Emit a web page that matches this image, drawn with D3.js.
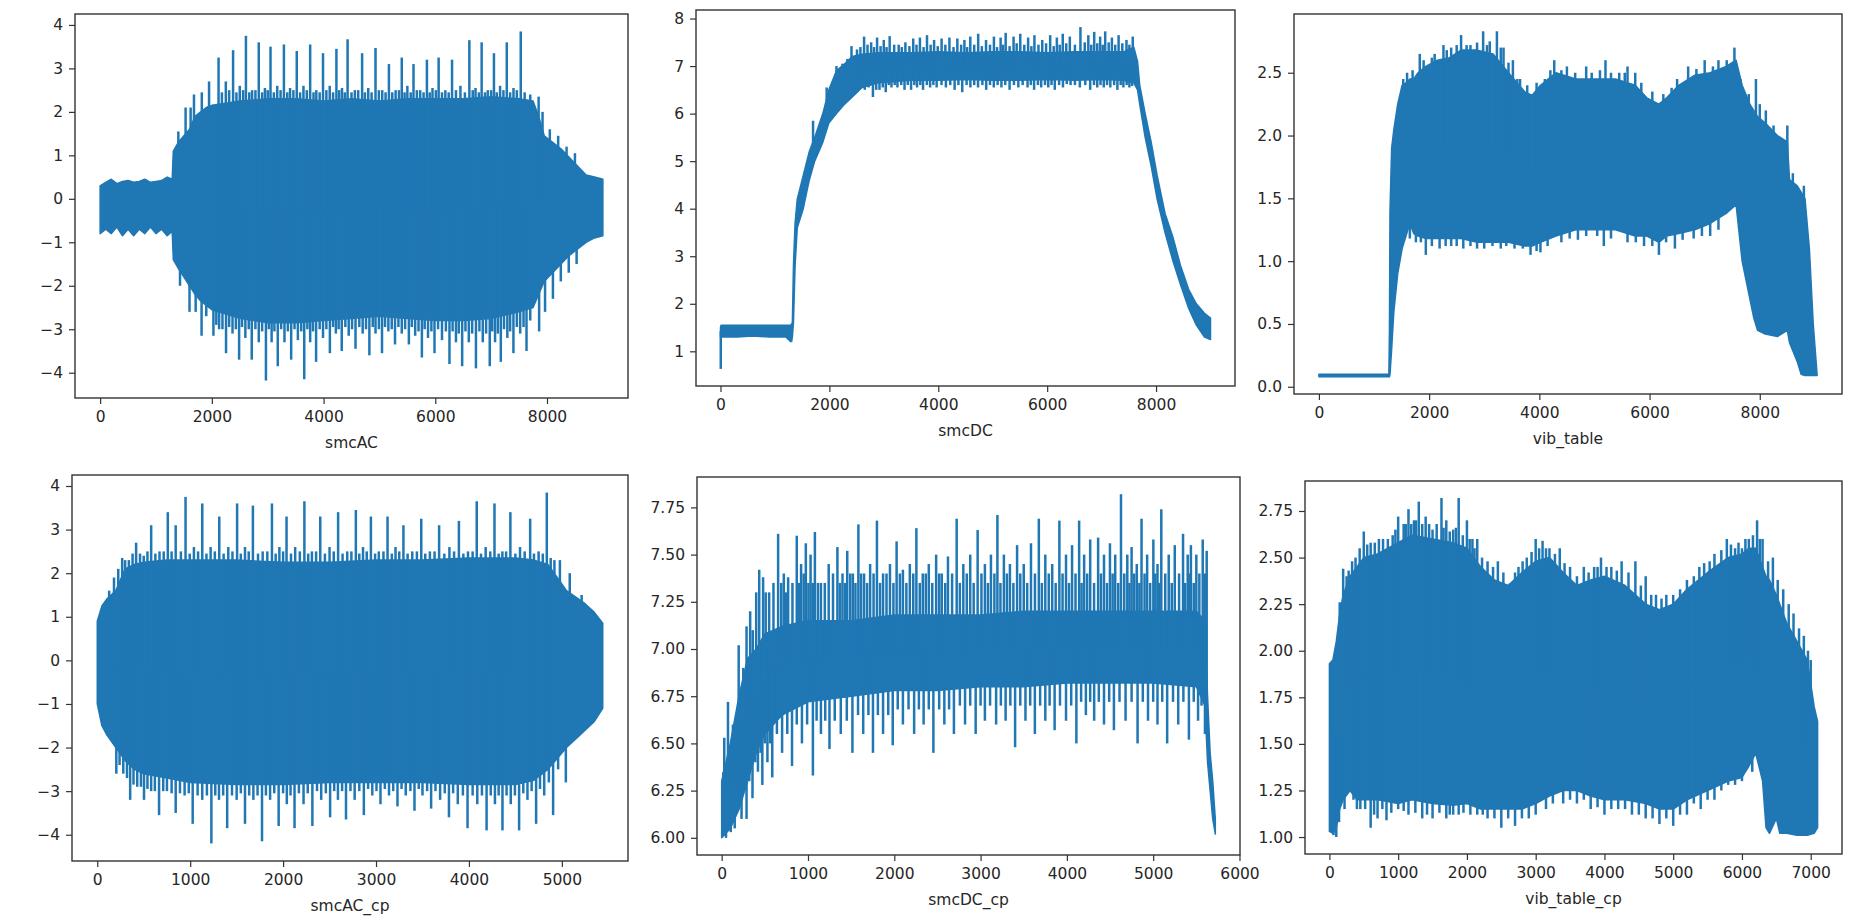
<!DOCTYPE html>
<html>
<head>
<meta charset="utf-8">
<script src="https://cdn.jsdelivr.net/npm/d3@7"></script>
<style>
  html, body { margin: 0; padding: 0; background: #fff; }
  svg text { font-family: 'DejaVu Sans', sans-serif; }
</style>
</head>
<body>
<svg id="fig" width="1861" height="922"></svg>
<script>
const BLUE = '#1f77b4';
const INK = '#262626';

// smcAC: band envelope (x, upper, lower), spike tips (x, y) and small teeth (x, y)
const smcAC_x  = [0, 100, 200, 300, 400, 500, 600, 700, 800, 900, 1000, 1100, 1200, 1290, 1310, 1400, 1500, 1600, 1700, 1800, 1900, 2000, 2250, 2500, 3000, 3500, 4000, 4500, 5000, 5500, 6000, 6500, 7000, 7500, 7750, 7850, 7950, 8100, 8250, 8400, 8550, 8700, 8850, 9000];
const smcAC_hi = [0.3, 0.38, 0.45, 0.35, 0.4, 0.42, 0.38, 0.4, 0.45, 0.38, 0.4, 0.42, 0.5, 0.45, 1.1, 1.3, 1.45, 1.6, 1.9, 2.0, 2.1, 2.15, 2.2, 2.25, 2.3, 2.3, 2.25, 2.3, 2.25, 2.3, 2.3, 2.3, 2.35, 2.3, 2.25, 1.9, 1.45, 1.3, 1.15, 0.95, 0.75, 0.55, 0.5, 0.45];
const smcAC_lo = [-0.8, -0.7, -0.8, -0.65, -0.85, -0.7, -0.85, -0.7, -0.8, -0.65, -0.8, -0.7, -0.85, -0.75, -1.4, -1.6, -1.8, -2.0, -2.2, -2.35, -2.45, -2.55, -2.65, -2.75, -2.85, -2.85, -2.8, -2.75, -2.7, -2.75, -2.8, -2.8, -2.75, -2.6, -2.5, -2.2, -1.9, -1.7, -1.5, -1.3, -1.15, -1.0, -0.9, -0.85];
const smcAC_sx = [1400, 1530, 1620, 1680, 1820, 1950, 2120, 2250, 2380, 2500, 2610, 2720, 2840, 2950, 3050, 3170, 3290, 3400, 3520, 3640, 3760, 3870, 3990, 4110, 4230, 4330, 4430, 4560, 4690, 4800, 4930, 5050, 5170, 5290, 5400, 5500, 5610, 5730, 5850, 5950, 6060, 6180, 6300, 6450, 6610, 6720, 6830, 6940, 7050, 7160, 7280, 7400, 7530, 7700, 7850, 7920, 8050, 8200, 8350, 8500,
  1430, 1600, 1710, 1816, 2028, 2130, 2254, 2370, 2488, 2600, 2714, 2840, 2968, 3070, 3180, 3300, 3420, 3540, 3654, 3760, 3866, 3990, 4113, 4220, 4325, 4450, 4572, 4700, 4820, 4930, 5046, 5160, 5279, 5400, 5527, 5640, 5760, 5870, 5986, 6120, 6254, 6370, 6481, 6600, 6728, 6850, 6975, 7070, 7173, 7290, 7399, 7520, 7633, 7859, 7965, 8106, 8247, 8389, 8530];
const smcAC_sy = [1.55, 2.1, 2.1, 2.4, 2.45, 2.7, 3.25, 2.7, 3.42, 2.6, 3.75, 2.5, 3.6, 2.55, 3.5, 2.6, 3.55, 2.55, 3.4, 2.6, 3.55, 2.5, 3.35, 2.6, 3.45, 2.55, 3.67, 2.5, 3.35, 2.55, 3.47, 2.5, 3.1, 2.5, 3.25, 2.6, 3.1, 2.5, 3.2, 2.55, 3.25, 2.5, 3.2, 2.6, 3.65, 2.55, 3.6, 2.5, 3.35, 2.6, 3.6, 2.55, 3.85, 2.4, 2.35, 2.0, 1.6, 1.45, 1.2, 1.05,
  -2.0, -2.6, -2.6, -3.15, -3.15, -3.0, -3.55, -3.1, -3.7, -3.2, -3.7, -3.3, -4.18, -3.3, -3.85, -3.3, -3.7, -3.25, -4.15, -3.3, -3.75, -3.2, -3.55, -3.1, -3.5, -3.15, -3.45, -3.1, -3.6, -3.1, -3.55, -3.05, -3.35, -3.1, -3.35, -3.15, -3.65, -3.2, -3.55, -3.25, -3.8, -3.3, -3.85, -3.3, -3.9, -3.3, -3.85, -3.3, -3.75, -3.2, -3.55, -3.1, -3.5, -3.05, -2.6, -2.3, -1.9, -1.7, -1.5];
const smcAC_tx = [2180, 2310, 2440, 2560, 2670, 2780, 2900, 3000, 3110, 3230, 3350, 3460, 3580, 3700, 3820, 3930, 4050, 4170, 4280, 4380, 4500, 4620, 4740, 4860, 4990, 5110, 5230, 5350, 5450, 5560, 5670, 5790, 5900, 6010, 6120, 6240, 6370, 6530, 6670, 6780, 6890, 7000, 7100, 7220, 7340, 7460, 7600,
  1900, 2080, 2190, 2310, 2430, 2540, 2660, 2780, 2900, 3020, 3120, 3240, 3360, 3480, 3600, 3710, 3810, 3930, 4050, 4170, 4270, 4390, 4510, 4640, 4760, 4880, 4990, 5100, 5220, 5340, 5460, 5580, 5700, 5810, 5930, 6050, 6190, 6310, 6420, 6540, 6660, 6790, 6910, 7020, 7120, 7230, 7340, 7460, 7580, 7700];
const smcAC_ty = [2.45, 2.5, 2.45, 2.5, 2.45, 2.5, 2.45, 2.5, 2.45, 2.5, 2.45, 2.5, 2.45, 2.5, 2.45, 2.45, 2.5, 2.45, 2.5, 2.45, 2.45, 2.5, 2.45, 2.45, 2.5, 2.45, 2.45, 2.5, 2.45, 2.45, 2.5, 2.45, 2.45, 2.5, 2.45, 2.45, 2.5, 2.45, 2.5, 2.45, 2.45, 2.5, 2.45, 2.5, 2.45, 2.5, 2.45,
  -2.7, -2.9, -3.0, -2.95, -3.0, -2.95, -3.0, -3.0, -3.05, -3.0, -3.05, -3.0, -3.05, -3.0, -3.05, -3.0, -3.05, -3.0, -3.0, -2.95, -3.0, -2.95, -3.0, -2.95, -3.0, -2.95, -3.0, -2.95, -3.0, -2.95, -3.0, -2.95, -3.05, -3.0, -3.05, -3.0, -3.05, -3.05, -3.1, -3.05, -3.1, -3.05, -3.1, -3.05, -3.1, -3.0, -3.05, -2.95, -2.95, -2.8];

// smcDC
const smcDC_x  = [0, 10, 300, 600, 900, 1200, 1290, 1320, 1340, 1370, 1410, 1520, 1630, 1730, 1880, 1990, 2130, 2280, 2420, 2600, 2900, 3500, 4000, 4500, 5000, 5500, 6000, 6500, 7000, 7400, 7590, 7660, 7700, 7800, 7910, 8020, 8165, 8310, 8450, 8600, 8740, 8890, 9000];
const smcDC_hi = [1.5, 1.55, 1.55, 1.55, 1.55, 1.55, 1.55, 1.6, 2.8, 3.7, 4.2, 4.7, 5.2, 5.5, 6.0, 6.5, 6.9, 7.05, 7.2, 7.25, 7.28, 7.28, 7.3, 7.28, 7.3, 7.3, 7.28, 7.3, 7.3, 7.3, 7.4, 7.1, 6.6, 6.0, 5.4, 4.7, 3.9, 3.4, 2.8, 2.3, 2.0, 1.8, 1.7];
const smcDC_lo = [1.3, 1.3, 1.3, 1.32, 1.3, 1.3, 1.2, 1.3, 1.6, 2.8, 3.6, 4.0, 4.6, 5.0, 5.4, 5.8, 6.0, 6.2, 6.35, 6.55, 6.65, 6.7, 6.7, 6.72, 6.7, 6.7, 6.72, 6.7, 6.72, 6.7, 6.65, 6.5, 6.2, 5.5, 4.9, 4.2, 3.5, 2.9, 2.4, 1.9, 1.55, 1.3, 1.25];
const smcDC_sx = [1480, 1700, 1950, 2130, 2240, 2330, 2406, 2507, 2637, 2767, 2876, 2999, 3107, 3273, 3396, 3540, 3663, 3793, 3923, 4061, 4205, 4350, 4480, 4588, 4733, 4877, 5022, 5145, 5238, 5383, 5506, 5650, 5766, 5910, 6055, 6178, 6286, 6416, 6611, 6756, 6864, 6973, 7066, 7189, 7312, 7457, 7572,
  5, 1300, 2507, 2650, 2800, 2920, 3035, 3140, 3250, 3380, 3500, 3610, 3720, 3850, 3970, 4140, 4300, 4440, 4590, 4730, 4880, 5020, 5160, 5310, 5470, 5640, 5760, 5890, 6020, 6140, 6290, 6430, 6600, 6790, 6920, 7040, 7160, 7290, 7400, 7510];
const smcDC_sy = [4.3, 5.85, 6.55, 7.0, 7.05, 7.15, 7.42, 7.35, 7.62, 7.5, 7.6, 7.55, 7.63, 7.45, 7.5, 7.58, 7.6, 7.65, 7.55, 7.58, 7.6, 7.58, 7.55, 7.62, 7.68, 7.55, 7.62, 7.6, 7.7, 7.62, 7.68, 7.6, 7.65, 7.55, 7.65, 7.6, 7.68, 7.62, 7.82, 7.65, 7.72, 7.62, 7.73, 7.6, 7.65, 7.55, 7.62,
  0.63, 1.2, 6.45, 6.5, 6.35, 6.5, 6.45, 6.55, 6.55, 6.5, 6.5, 6.55, 6.5, 6.55, 6.55, 6.55, 6.5, 6.45, 6.55, 6.55, 6.5, 6.55, 6.55, 6.5, 6.55, 6.55, 6.5, 6.55, 6.55, 6.5, 6.55, 6.6, 6.55, 6.5, 6.55, 6.55, 6.55, 6.5, 6.55, 6.55];
const smcDC_tx = [2570, 2700, 2820, 2940, 3050, 3190, 3330, 3470, 3600, 3730, 3860, 3990, 4130, 4280, 4420, 4530, 4660, 4800, 4950, 5080, 5190, 5310, 5440, 5580, 5710, 5840, 5980, 6120, 6230, 6350, 6510, 6690, 6810, 6920, 7020, 7130, 7250, 7380, 7510,
  2580, 2720, 2860, 2980, 3090, 3200, 3320, 3440, 3560, 3670, 3790, 3910, 4060, 4220, 4370, 4520, 4660, 4810, 4950, 5090, 5230, 5390, 5550, 5700, 5830, 5960, 6080, 6220, 6360, 6510, 6700, 6860, 6980, 7100, 7230, 7350, 7460, 7560];
const smcDC_ty = [7.4, 7.45, 7.4, 7.42, 7.4, 7.45, 7.4, 7.42, 7.45, 7.4, 7.45, 7.42, 7.45, 7.4, 7.45, 7.4, 7.45, 7.42, 7.45, 7.4, 7.45, 7.42, 7.48, 7.45, 7.42, 7.45, 7.48, 7.42, 7.45, 7.48, 7.45, 7.5, 7.45, 7.48, 7.45, 7.5, 7.45, 7.48, 7.45,
  6.55, 6.55, 6.5, 6.55, 6.6, 6.6, 6.6, 6.6, 6.6, 6.6, 6.6, 6.6, 6.6, 6.6, 6.6, 6.6, 6.6, 6.6, 6.6, 6.6, 6.6, 6.6, 6.6, 6.6, 6.6, 6.6, 6.6, 6.6, 6.62, 6.6, 6.6, 6.6, 6.6, 6.6, 6.6, 6.6, 6.6, 6.58];

// vib_table
const vib_x  = [0, 1270, 1280, 1290, 1320, 1360, 1430, 1510, 1580, 1650, 1720, 1800, 1940, 2150, 2370, 2580, 2870, 3160, 3440, 3730, 3870, 4020, 4300, 4660, 5020, 5380, 5740, 5950, 6170, 6310, 6530, 6820, 7100, 7390, 7570, 7680, 7820, 7890, 7960, 8100, 8320, 8500, 8540, 8680, 8750, 8820, 8900, 8970, 9040];
const vib_hi = [0.1, 0.1, 0.45, 1.4, 1.9, 2.05, 2.25, 2.4, 2.42, 2.45, 2.45, 2.5, 2.55, 2.6, 2.62, 2.68, 2.68, 2.65, 2.5, 2.35, 2.32, 2.4, 2.5, 2.45, 2.45, 2.45, 2.4, 2.3, 2.25, 2.3, 2.4, 2.48, 2.5, 2.55, 2.6, 2.4, 2.25, 2.2, 2.15, 2.1, 2.0, 1.95, 1.65, 1.6, 1.55, 1.5, 1.1, 0.5, 0.1];
const vib_lo = [0.08, 0.08, 0.08, 0.1, 0.3, 0.6, 0.9, 1.1, 1.2, 1.3, 1.22, 1.2, 1.18, 1.18, 1.18, 1.18, 1.15, 1.15, 1.15, 1.12, 1.12, 1.15, 1.2, 1.25, 1.25, 1.25, 1.2, 1.2, 1.15, 1.2, 1.22, 1.25, 1.3, 1.38, 1.45, 1.0, 0.7, 0.55, 0.45, 0.42, 0.4, 0.45, 0.35, 0.2, 0.1, 0.09, 0.09, 0.09, 0.09];
const vib_sx = [1530, 1830, 2050, 2260, 2400, 2580, 2750, 2980, 3100, 3230, 3350, 3520, 3650, 4100, 4270, 4500, 4850, 5200, 5450, 5600, 5740, 6400, 6700, 7000, 7250, 7540, 7930, 8110, 8500,
  1650, 1940, 2190, 2400, 2620, 2870, 3300, 3550, 3840, 4020, 4400, 4700, 5170, 5600, 5900, 6170, 6460, 6800, 7100];
const vib_sy = [2.45, 2.65, 2.62, 2.72, 2.7, 2.8, 2.72, 2.83, 2.75, 2.83, 2.7, 2.6, 2.45, 2.45, 2.6, 2.55, 2.55, 2.6, 2.5, 2.55, 2.5, 2.38, 2.55, 2.6, 2.6, 2.7, 2.45, 2.2, 2.08,
  1.18, 1.05, 1.1, 1.12, 1.1, 1.1, 1.1, 1.1, 1.05, 1.07, 1.15, 1.17, 1.12, 1.15, 1.12, 1.05, 1.1, 1.18, 1.2];
const vib_tx = [1600, 1700, 1900, 2100, 2320, 2500, 2680, 2870, 3050, 3300, 3440, 3600, 3780, 3950, 4200, 4400, 4650, 4950, 5100, 5300, 5550, 5850, 6050, 6250, 6500, 6850, 7150, 7400, 7650, 7800, 8000, 8250, 8600, 8800,
  1760, 1850, 2050, 2300, 2500, 2750, 3000, 3150, 3400, 3700, 3950, 4150, 4550, 4850, 5050, 5300, 5750, 6050, 6300, 6600, 6950, 7250];
const vib_ty = [2.5, 2.52, 2.6, 2.65, 2.68, 2.72, 2.72, 2.74, 2.72, 2.7, 2.58, 2.45, 2.4, 2.42, 2.52, 2.52, 2.5, 2.5, 2.52, 2.5, 2.5, 2.42, 2.35, 2.33, 2.45, 2.53, 2.55, 2.6, 2.45, 2.33, 2.25, 2.08, 1.7, 1.6,
  1.15, 1.15, 1.12, 1.12, 1.12, 1.12, 1.1, 1.12, 1.12, 1.1, 1.08, 1.12, 1.18, 1.2, 1.2, 1.18, 1.15, 1.12, 1.15, 1.17, 1.2, 1.25];

// smcAC_cp
const smcACcp_x  = [0, 50, 100, 200, 300, 400, 500, 750, 1000, 1500, 2000, 2500, 3000, 3500, 4000, 4500, 4700, 4850, 4950, 5050, 5150, 5250, 5350, 5440];
const smcACcp_hi = [0.9, 1.25, 1.4, 1.6, 2.1, 2.2, 2.25, 2.3, 2.3, 2.3, 2.25, 2.25, 2.3, 2.3, 2.35, 2.35, 2.3, 2.2, 1.9, 1.6, 1.45, 1.3, 1.1, 0.85];
const smcACcp_lo = [-1.0, -1.5, -1.7, -2.0, -2.3, -2.5, -2.6, -2.7, -2.8, -2.85, -2.85, -2.8, -2.8, -2.8, -2.85, -2.85, -2.75, -2.5, -2.25, -2.0, -1.8, -1.6, -1.4, -1.1];
const smcACcp_sx = [128, 226, 268, 340, 418, 500, 580, 670, 759, 844, 950, 1040, 1130, 1220, 1313, 1410, 1505, 1590, 1675, 1780, 1880, 1960, 2037, 2130, 2229, 2310, 2400, 2500, 2592, 2690, 2783, 2860, 2945, 3030, 3124, 3210, 3295, 3390, 3487, 3580, 3679, 3790, 3892, 3990, 4084, 4180, 4275, 4360, 4446, 4550, 4659, 4750, 4838, 4920, 4979, 5085, 5213,
  205, 280, 354, 430, 503, 580, 665, 750, 844, 940, 1027, 1130, 1228, 1310, 1398, 1500, 1590, 1680, 1773, 1860, 1952, 2040, 2123, 2220, 2315, 2410, 2506, 2590, 2677, 2770, 2869, 2960, 3048, 3140, 3231, 3320, 3414, 3500, 3593, 3690, 3785, 3880, 3985, 4090, 4190, 4280, 4361, 4450, 4540, 4630, 4723, 4810, 4906, 5043];
const smcACcp_sy = [1.6, 2.1, 2.35, 2.3, 2.7, 2.4, 3.1, 2.5, 3.4, 3.1, 3.75, 2.6, 3.6, 2.6, 3.3, 2.6, 3.6, 2.6, 3.55, 2.5, 3.6, 2.6, 3.3, 2.6, 3.65, 2.5, 3.3, 2.6, 3.4, 2.5, 3.45, 2.6, 3.3, 2.5, 3.3, 2.6, 3.1, 2.5, 3.25, 2.5, 3.1, 2.6, 3.2, 2.5, 3.65, 2.6, 3.6, 2.5, 3.4, 2.6, 3.25, 2.5, 3.85, 2.3, 2.3, 2.0, 1.5,
  -2.6, -2.6, -3.2, -2.9, -3.2, -3.0, -3.55, -3.0, -3.5, -3.1, -3.75, -3.2, -4.2, -3.2, -3.85, -3.2, -3.75, -3.2, -4.15, -3.2, -3.8, -3.3, -3.85, -3.3, -3.8, -3.2, -3.6, -3.2, -3.65, -3.2, -3.55, -3.1, -3.3, -3.1, -3.35, -3.1, -3.45, -3.1, -3.4, -3.2, -3.6, -3.3, -3.85, -3.3, -3.9, -3.3, -3.9, -3.3, -3.9, -3.2, -3.75, -3.1, -3.55, -2.8];
const smcACcp_tx = [180, 300, 380, 460, 540, 625, 715, 800, 900, 995, 1085, 1175, 1265, 1360, 1455, 1545, 1630, 1730, 1830, 1920, 2000, 2085, 2180, 2270, 2355, 2450, 2545, 2640, 2735, 2820, 2900, 2990, 3080, 3170, 3250, 3340, 3440, 3530, 3630, 3735, 3840, 3940, 4040, 4130, 4230, 4320, 4400, 4500, 4600, 4700, 4795, 4880,
  240, 320, 390, 470, 540, 620, 710, 800, 890, 985, 1080, 1180, 1270, 1355, 1450, 1545, 1635, 1725, 1815, 1905, 2000, 2080, 2170, 2265, 2365, 2460, 2550, 2635, 2725, 2820, 2915, 3005, 3095, 3185, 3275, 3370, 3460, 3550, 3640, 3740, 3830, 3935, 4040, 4140, 4235, 4320, 4405, 4495, 4585, 4675, 4765, 4860, 4960];
const smcACcp_ty = [1.9, 2.3, 2.45, 2.45, 2.5, 2.45, 2.5, 2.5, 2.5, 2.45, 2.5, 2.45, 2.5, 2.45, 2.5, 2.45, 2.5, 2.45, 2.5, 2.45, 2.5, 2.45, 2.5, 2.45, 2.5, 2.45, 2.5, 2.45, 2.5, 2.45, 2.5, 2.45, 2.5, 2.45, 2.5, 2.45, 2.5, 2.45, 2.5, 2.45, 2.5, 2.45, 2.5, 2.45, 2.5, 2.45, 2.5, 2.45, 2.5, 2.45, 2.45, 2.35,
  -2.4, -2.7, -2.85, -2.9, -2.95, -3.0, -3.0, -3.05, -3.05, -3.05, -3.1, -3.1, -3.1, -3.1, -3.1, -3.05, -3.1, -3.1, -3.1, -3.05, -3.05, -3.1, -3.05, -3.05, -3.0, -3.05, -3.0, -3.0, -3.0, -3.0, -2.95, -3.0, -2.95, -3.0, -2.95, -3.0, -2.95, -3.0, -3.0, -3.05, -3.05, -3.1, -3.1, -3.1, -3.1, -3.1, -3.1, -3.1, -3.05, -3.0, -2.95, -2.8, -2.5];

// smcDC_cp
const smcDCcp_x  = [0, 100, 200, 300, 400, 500, 700, 1000, 1500, 2000, 2500, 3000, 3500, 4000, 4500, 5000, 5500, 5600, 5630, 5660, 5690, 5720];
const smcDCcp_hi = [6.3, 6.5, 6.75, 6.95, 7.0, 7.08, 7.12, 7.15, 7.15, 7.18, 7.18, 7.18, 7.2, 7.2, 7.2, 7.2, 7.2, 7.15, 6.75, 6.45, 6.3, 6.1];
const smcDCcp_lo = [6.0, 6.05, 6.15, 6.3, 6.45, 6.55, 6.65, 6.72, 6.75, 6.78, 6.78, 6.8, 6.8, 6.82, 6.82, 6.82, 6.8, 6.7, 6.4, 6.25, 6.1, 6.02];
const smcDCcp_sx = [20, 30, 73, 130, 197, 250, 288, 360, 435, 480, 550, 654, 720, 770, 870, 920, 975, 1030, 1080, 1150, 1240, 1341, 1400, 1455, 1520, 1584, 1650, 1720, 1799, 1870, 1950, 2027, 2100, 2180, 2256, 2330, 2400, 2485, 2550, 2622, 2723, 2800, 2880, 2966, 3050, 3120, 3195, 3270, 3340, 3423, 3500, 3584, 3675, 3750, 3830, 3913, 3990, 4060, 4142, 4200, 4270, 4362, 4430, 4499, 4560, 4627, 4700, 4750, 4810, 4865, 4930, 5002, 5050, 5094, 5180, 5250, 5346, 5400, 5437, 5500, 5574, 5620,
  50, 105, 151, 230, 288, 357, 420, 471, 530, 586, 700, 815, 930, 1057, 1150, 1249, 1380, 1515, 1640, 1753, 1870, 1982, 2100, 2230, 2340, 2453, 2580, 2691, 2820, 2943, 3050, 3180, 3290, 3400, 3520, 3629, 3750, 3858, 3990, 4110, 4220, 4316, 4430, 4545, 4680, 4819, 4940, 5050, 5162, 5290, 5414, 5520, 5600];
const smcDCcp_sy = [6.35, 6.53, 6.72, 6.6, 7.02, 6.9, 7.12, 7.1, 7.42, 7.38, 7.3, 7.61, 7.4, 7.38, 7.6, 7.45, 7.56, 7.5, 7.62, 7.35, 7.45, 7.54, 7.4, 7.52, 7.4, 7.66, 7.4, 7.45, 7.68, 7.4, 7.45, 7.57, 7.42, 7.45, 7.64, 7.4, 7.45, 7.5, 7.4, 7.49, 7.69, 7.45, 7.5, 7.63, 7.45, 7.5, 7.71, 7.5, 7.45, 7.55, 7.45, 7.56, 7.69, 7.5, 7.45, 7.68, 7.5, 7.55, 7.68, 7.5, 7.58, 7.59, 7.5, 7.56, 7.5, 7.82, 7.5, 7.54, 7.45, 7.69, 7.5, 7.58, 7.45, 7.74, 7.5, 7.55, 7.61, 7.5, 7.55, 7.5, 7.58, 7.52,
  6.0, 6.03, 6.05, 6.1, 6.1, 6.21, 6.35, 6.28, 6.4, 6.32, 6.45, 6.38, 6.5, 6.33, 6.55, 6.47, 6.55, 6.45, 6.55, 6.45, 6.55, 6.49, 6.6, 6.55, 6.6, 6.45, 6.6, 6.55, 6.6, 6.55, 6.62, 6.6, 6.62, 6.48, 6.62, 6.55, 6.62, 6.57, 6.62, 6.5, 6.65, 6.62, 6.6, 6.57, 6.62, 6.5, 6.62, 6.6, 6.5, 6.6, 6.52, 6.62, 6.55];
const smcDCcp_tx = [330, 400, 510, 600, 690, 745, 820, 895, 950, 1005, 1055, 1115, 1195, 1290, 1370, 1430, 1490, 1550, 1615, 1685, 1760, 1835, 1910, 1990, 2065, 2140, 2220, 2295, 2365, 2440, 2520, 2590, 2670, 2760, 2840, 2920, 3010, 3085, 3160, 3230, 3305, 3380, 3460, 3540, 3630, 3710, 3790, 3870, 3950, 4025, 4100, 4170, 4235, 4315, 4395, 4465, 4530, 4595, 4665, 4725, 4780, 4840, 4900, 4965, 5025, 5070, 5140, 5215, 5300, 5370, 5420, 5470, 5535, 5600,
  180, 260, 320, 390, 450, 500, 560, 640, 760, 870, 990, 1100, 1200, 1310, 1450, 1580, 1700, 1810, 1930, 2040, 2165, 2285, 2400, 2520, 2635, 2760, 2880, 3000, 3110, 3235, 3345, 3460, 3575, 3690, 3800, 3920, 4050, 4165, 4270, 4370, 4490, 4610, 4750, 4880, 5000, 5105, 5230, 5350, 5470, 5560];
const smcDCcp_ty = [7.2, 7.3, 7.3, 7.35, 7.35, 7.3, 7.35, 7.35, 7.4, 7.35, 7.35, 7.35, 7.35, 7.4, 7.35, 7.35, 7.4, 7.35, 7.4, 7.35, 7.4, 7.35, 7.4, 7.35, 7.4, 7.35, 7.4, 7.35, 7.4, 7.35, 7.4, 7.35, 7.4, 7.35, 7.4, 7.35, 7.4, 7.35, 7.4, 7.35, 7.4, 7.35, 7.4, 7.35, 7.4, 7.35, 7.4, 7.35, 7.4, 7.35, 7.4, 7.35, 7.4, 7.35, 7.4, 7.35, 7.4, 7.35, 7.4, 7.35, 7.4, 7.35, 7.4, 7.35, 7.4, 7.35, 7.4, 7.35, 7.4, 7.35, 7.4, 7.35, 7.4, 7.4,
  6.15, 6.25, 6.3, 6.4, 6.45, 6.5, 6.5, 6.55, 6.55, 6.6, 6.6, 6.62, 6.62, 6.62, 6.62, 6.65, 6.65, 6.65, 6.65, 6.68, 6.68, 6.68, 6.68, 6.68, 6.68, 6.7, 6.7, 6.7, 6.7, 6.7, 6.7, 6.7, 6.7, 6.7, 6.7, 6.7, 6.7, 6.72, 6.72, 6.72, 6.72, 6.72, 6.72, 6.72, 6.72, 6.72, 6.72, 6.72, 6.72, 6.7];

// vib_table_cp
const vibcp_x  = [0, 50, 100, 150, 200, 300, 400, 500, 700, 1000, 1200, 1500, 1800, 2000, 2200, 2400, 2600, 2800, 3000, 3200, 3400, 3600, 3800, 4000, 4300, 4600, 4800, 5000, 5200, 5500, 5800, 6000, 6100, 6200, 6300, 6350, 6400, 6500, 6550, 6650, 6800, 6950, 7050, 7100];
const vibcp_hi = [1.93, 1.95, 2.05, 2.2, 2.3, 2.4, 2.45, 2.5, 2.52, 2.58, 2.62, 2.6, 2.58, 2.55, 2.45, 2.38, 2.35, 2.42, 2.48, 2.5, 2.42, 2.35, 2.38, 2.4, 2.35, 2.25, 2.22, 2.25, 2.33, 2.42, 2.5, 2.52, 2.55, 2.55, 2.45, 2.4, 2.38, 2.3, 2.25, 2.15, 2.05, 1.95, 1.7, 1.62];
const vibcp_lo = [1.03, 1.02, 1.05, 1.15, 1.2, 1.25, 1.2, 1.2, 1.2, 1.18, 1.2, 1.18, 1.17, 1.18, 1.15, 1.15, 1.15, 1.15, 1.18, 1.22, 1.25, 1.25, 1.22, 1.2, 1.2, 1.18, 1.15, 1.15, 1.2, 1.25, 1.3, 1.32, 1.38, 1.45, 1.3, 1.05, 1.02, 1.1, 1.02, 1.02, 1.01, 1.01, 1.02, 1.05];
const vibcp_sx = [150, 200, 280, 380, 500, 600, 720, 850, 920, 1000, 1080, 1150, 1230, 1300, 1400, 1500, 1630, 1700, 1800, 1880, 2000, 2080, 2150, 2300, 2450, 2620, 2750, 2870, 3000, 3100, 3200, 3350, 3500, 3700, 3850, 3950, 4100, 4250, 4450, 4600, 4750, 4900, 5100, 5300, 5450, 5600, 5780, 5900, 6000, 6100, 6220, 6300, 6450, 6600, 6750, 6900, 7000,
  20, 100, 300, 350, 450, 600, 700, 830, 1000, 1150, 1350, 1500, 1700, 1800, 1950, 2150, 2300, 2500, 2700, 2900, 3150, 3400, 3600, 3800, 4000, 4200, 4400, 4600, 4800, 5000, 5200, 5400, 5600, 5800, 6000];
const vibcp_sy = [2.26, 2.44, 2.43, 2.5, 2.64, 2.58, 2.6, 2.6, 2.62, 2.72, 2.68, 2.76, 2.7, 2.8, 2.72, 2.65, 2.82, 2.7, 2.65, 2.82, 2.7, 2.6, 2.6, 2.48, 2.48, 2.36, 2.45, 2.5, 2.6, 2.59, 2.55, 2.55, 2.45, 2.45, 2.45, 2.5, 2.45, 2.48, 2.48, 2.4, 2.3, 2.3, 2.33, 2.4, 2.47, 2.52, 2.6, 2.55, 2.55, 2.6, 2.7, 2.6, 2.5, 2.33, 2.2, 2.08, 1.95,
  1.03, 1.0, 1.38, 1.2, 1.15, 1.05, 1.1, 1.09, 1.15, 1.12, 1.1, 1.1, 1.1, 1.12, 1.13, 1.12, 1.1, 1.05, 1.06, 1.1, 1.15, 1.18, 1.18, 1.15, 1.12, 1.15, 1.12, 1.1, 1.07, 1.06, 1.12, 1.15, 1.2, 1.28, 1.3];
const vibcp_tx = [250, 330, 440, 550, 660, 780, 960, 1110, 1190, 1260, 1350, 1450, 1560, 1660, 1750, 1840, 1940, 2040, 2110, 2220, 2380, 2530, 2700, 2810, 2940, 3050, 3150, 3280, 3420, 3600, 3770, 3900, 4030, 4180, 4350, 4530, 4680, 4830, 5000, 5200, 5380, 5530, 5700, 5840, 5950, 6050, 6160, 6260, 6380, 6520, 6680, 6830, 6960,
  60, 140, 220, 400, 520, 650, 770, 900, 1080, 1250, 1420, 1600, 1750, 1880, 2050, 2230, 2400, 2600, 2800, 3000, 3250, 3500, 3700, 3900, 4100, 4300, 4500, 4700, 4900, 5100, 5300, 5500, 5700, 5900, 6150];
const vibcp_ty = [2.4, 2.48, 2.55, 2.57, 2.58, 2.6, 2.65, 2.68, 2.68, 2.7, 2.68, 2.68, 2.68, 2.66, 2.64, 2.66, 2.62, 2.6, 2.55, 2.5, 2.45, 2.42, 2.42, 2.48, 2.53, 2.55, 2.55, 2.52, 2.47, 2.4, 2.42, 2.45, 2.45, 2.43, 2.42, 2.35, 2.3, 2.28, 2.3, 2.38, 2.45, 2.48, 2.54, 2.57, 2.58, 2.6, 2.62, 2.6, 2.48, 2.38, 2.25, 2.12, 2.0,
  1.01, 1.08, 1.15, 1.15, 1.15, 1.12, 1.15, 1.13, 1.14, 1.13, 1.12, 1.13, 1.12, 1.12, 1.12, 1.12, 1.1, 1.1, 1.1, 1.12, 1.18, 1.2, 1.2, 1.16, 1.15, 1.15, 1.12, 1.1, 1.1, 1.12, 1.18, 1.2, 1.25, 1.28, 1.35];

// tick labels
const ticksX9000 = [0, 2000, 4000, 6000, 8000];
const ticksAC    = [-4, -3, -2, -1, 0, 1, 2, 3, 4];
const ticksDC    = [1, 2, 3, 4, 5, 6, 7, 8];
const ticksVib   = [0.0, 0.5, 1.0, 1.5, 2.0, 2.5];
const ticksX5000 = [0, 1000, 2000, 3000, 4000, 5000];
const ticksX6000 = [0, 1000, 2000, 3000, 4000, 5000, 6000];
const ticksX7000 = [0, 1000, 2000, 3000, 4000, 5000, 6000, 7000];
const ticksDCcp  = [6.00, 6.25, 6.50, 6.75, 7.00, 7.25, 7.50, 7.75];
const ticksVibcp = [1.00, 1.25, 1.50, 1.75, 2.00, 2.25, 2.50, 2.75];

const panels = [
  {label: 'smcAC', box: [75, 14, 628, 398], bx: smcAC_x, hi: smcAC_hi, lo: smcAC_lo, sx: smcAC_sx.concat(smcAC_tx), sy: smcAC_sy.concat(smcAC_ty), xt: ticksX9000, yt: ticksAC, yf: 'd'},
  {label: 'smcDC', box: [696, 10, 1235, 386], bx: smcDC_x, hi: smcDC_hi, lo: smcDC_lo, sx: smcDC_sx.concat(smcDC_tx), sy: smcDC_sy.concat(smcDC_ty), xt: ticksX9000, yt: ticksDC, yf: 'd'},
  {label: 'vib_table', box: [1294, 14, 1842, 394], bx: vib_x, hi: vib_hi, lo: vib_lo, sx: vib_sx.concat(vib_tx), sy: vib_sy.concat(vib_ty), xt: ticksX9000, yt: ticksVib, yf: '.1f'},
  {label: 'smcAC_cp', box: [72, 475, 628, 861], bx: smcACcp_x, hi: smcACcp_hi, lo: smcACcp_lo, sx: smcACcp_sx.concat(smcACcp_tx), sy: smcACcp_sy.concat(smcACcp_ty), xt: ticksX5000, yt: ticksAC, yf: 'd'},
  {label: 'smcDC_cp', box: [697, 477, 1240, 855], bx: smcDCcp_x, hi: smcDCcp_hi, lo: smcDCcp_lo, sx: smcDCcp_sx.concat(smcDCcp_tx), sy: smcDCcp_sy.concat(smcDCcp_ty), xt: ticksX6000, yt: ticksDCcp, yf: '.2f'},
  {label: 'vib_table_cp', box: [1305, 481, 1842, 854], bx: vibcp_x, hi: vibcp_hi, lo: vibcp_lo, sx: vibcp_sx.concat(vibcp_tx), sy: vibcp_sy.concat(vibcp_ty), xt: ticksX7000, yt: ticksVibcp, yf: '.2f'}
];

const svg = d3.select('#fig');
svg.append('rect').attr('width', 1861).attr('height', 922).attr('fill', '#fff');

function drawPanel(p) {
  const [l, t, r, b] = p.box;

  // matplotlib-style 5% margins
  const xe = d3.extent(p.bx);
  const xpad = (xe[1] - xe[0]) * 0.05;
  const x = d3.scaleLinear().domain([xe[0] - xpad, xe[1] + xpad]).range([l, r]);
  const ye = d3.extent(p.hi.concat(p.lo, p.sy));
  const ypad = (ye[1] - ye[0]) * 0.05;
  const y = d3.scaleLinear().domain([ye[0] - ypad, ye[1] + ypad]).range([b, t]);

  const g = svg.append('g');

  // dense oscillation drawn as its envelope
  const area = d3.area()
    .x((d, i) => x(p.bx[i]))
    .y0((d, i) => y(p.lo[i]))
    .y1((d, i) => y(p.hi[i]));
  g.append('path')
    .datum(p.bx)
    .attr('d', area)
    .attr('fill', BLUE)
    .attr('stroke', BLUE)
    .attr('stroke-width', 1.5)
    .attr('stroke-linejoin', 'round');

  // spikes, from the band middle out to each tip
  const bis = d3.bisector(d => d).left;
  const spikes = p.sx.map((sx, i) => {
    const j = Math.min(bis(p.bx, sx), p.bx.length - 1);
    return {x: sx, base: (p.hi[j] + p.lo[j]) / 2, tip: p.sy[i]};
  });
  g.selectAll('line.spike')
    .data(spikes)
    .join('line')
    .attr('class', 'spike')
    .attr('x1', d => x(d.x))
    .attr('x2', d => x(d.x))
    .attr('y1', d => y(d.base))
    .attr('y2', d => y(d.tip))
    .attr('stroke', BLUE)
    .attr('stroke-width', 2.5);

  // axes
  const minus = s => s.replace('-', '\u2212');
  const xa = d3.axisBottom(x).tickValues(p.xt).tickSize(6).tickPadding(7).tickFormat(d3.format('d'));
  const ya = d3.axisLeft(y).tickValues(p.yt).tickSize(6).tickPadding(6).tickFormat(d => minus(d3.format(p.yf)(d)));

  [[xa, `translate(0,${b})`], [ya, `translate(${l},0)`]].forEach(([ax, tr]) => {
    const a = g.append('g').attr('transform', tr).call(ax);
    a.select('.domain').remove();
    a.selectAll('line').attr('stroke', '#333').attr('stroke-width', 1.2);
    a.selectAll('text').attr('fill', INK).style('font-size', '15.5px').style('font-family', "'DejaVu Sans', sans-serif");
  });

  // frame
  g.append('rect')
    .attr('x', l).attr('y', t)
    .attr('width', r - l).attr('height', b - t)
    .attr('fill', 'none')
    .attr('stroke', '#333')
    .attr('stroke-width', 1.4);

  g.append('text')
    .attr('x', (l + r) / 2)
    .attr('y', b + 50)
    .attr('text-anchor', 'middle')
    .attr('fill', INK)
    .style('font-size', '15.5px')
    .text(p.label);
}

panels.forEach(drawPanel);
</script>
</body>
</html>
